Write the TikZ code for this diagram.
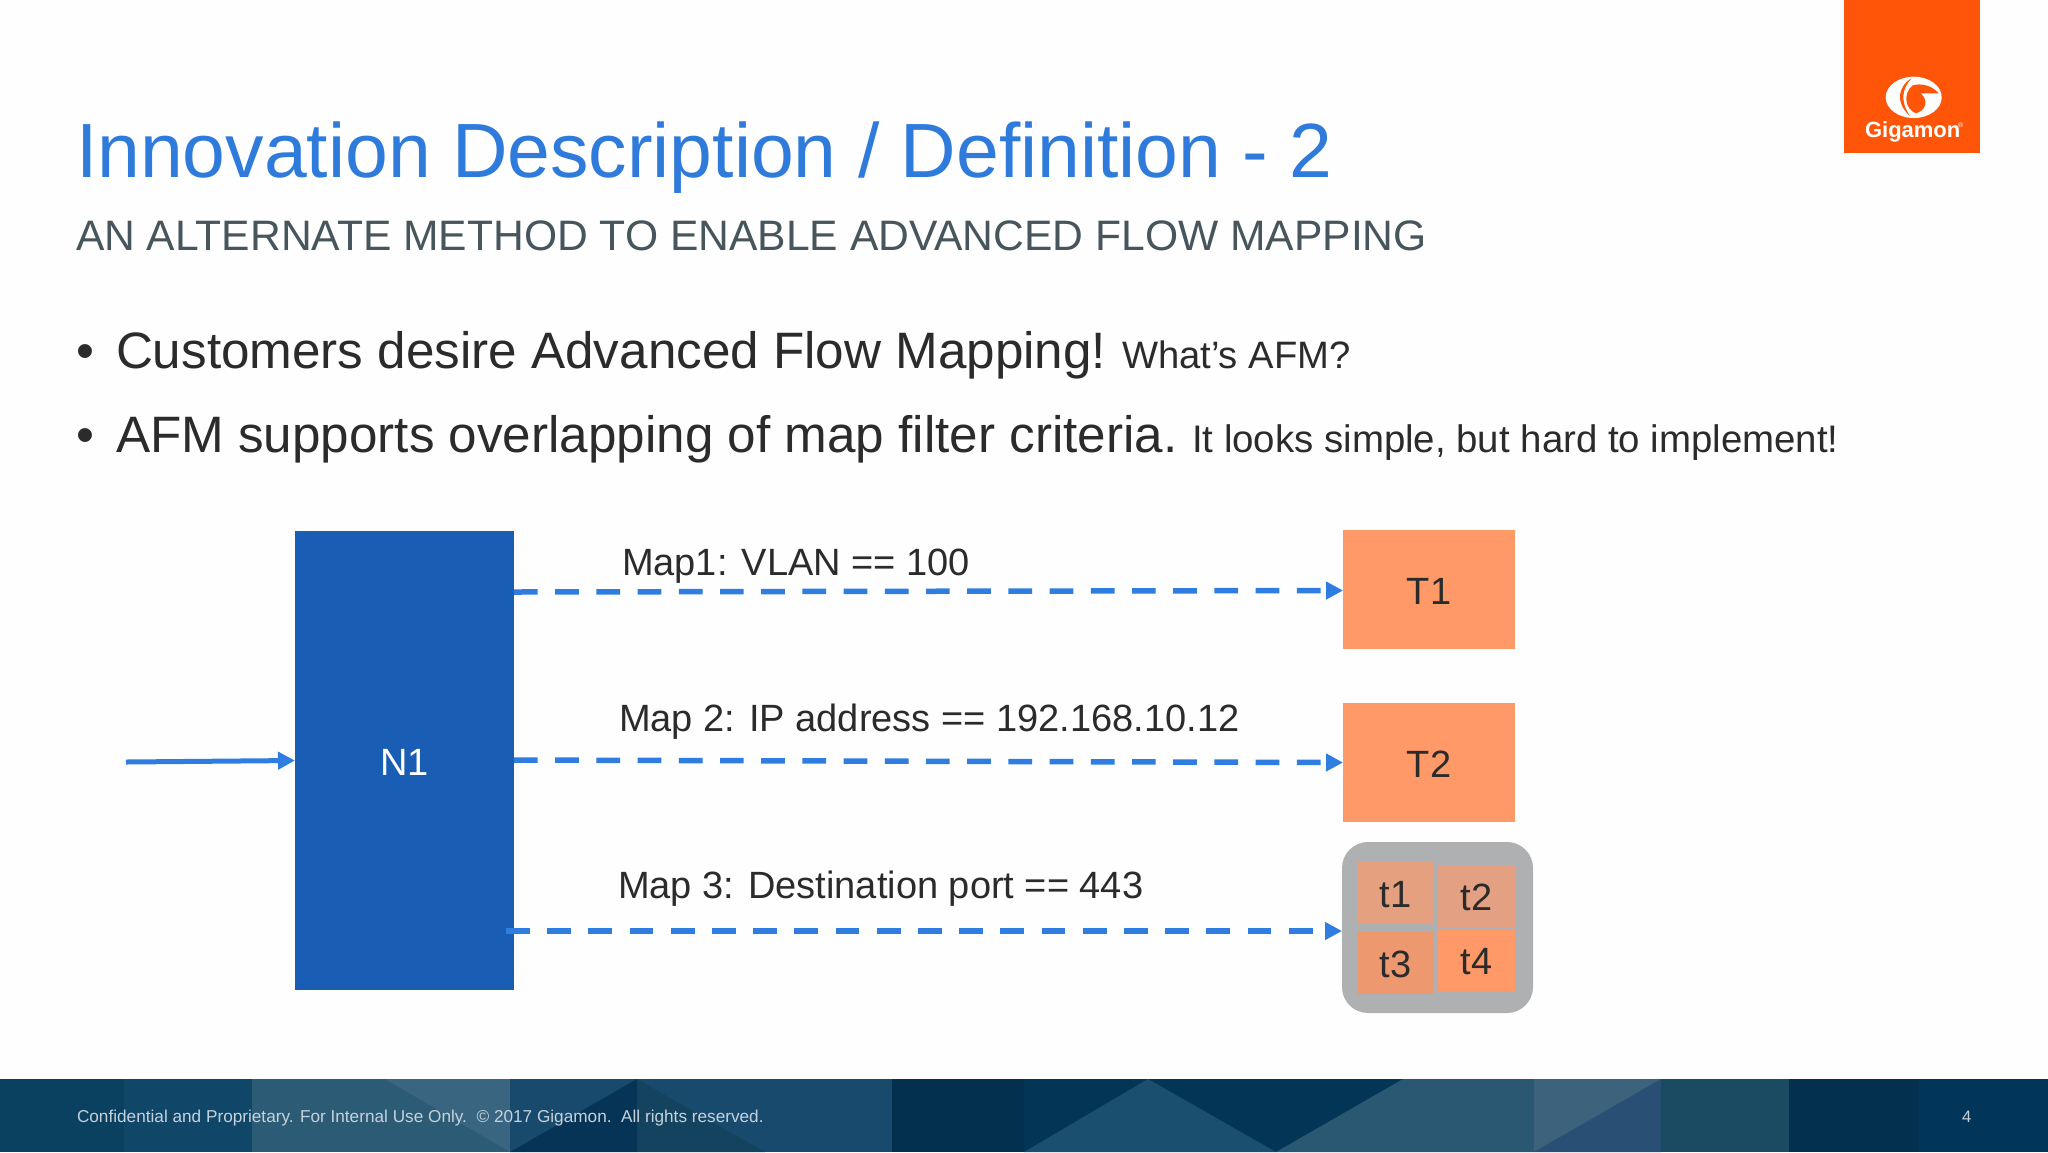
\documentclass[tikz,border=0pt]{standalone}
\usepackage{fontspec}
\setmainfont{Liberation Sans}
\usetikzlibrary{arrows.meta}
\definecolor{titleblue}{HTML}{2F7BDB}
\definecolor{subgray}{HTML}{47555C}
\definecolor{ink}{HTML}{2B2B2B}
\definecolor{nblue}{HTML}{1A5DB4}
\definecolor{arrowblue}{HTML}{2F7DE0}
\definecolor{salmon}{HTML}{FF9968}
\definecolor{logoorange}{HTML}{FF5508}
\definecolor{groupgray}{HTML}{AEB0B2}
\definecolor{foottext}{HTML}{C6D2DA}
\newcommand{\lowered}[1]{\raisebox{0pt}[\dimexpr\height+2pt\relax]{#1}}
\tikzset{
  txt/.style={anchor=base west,inner sep=0pt,outer sep=0pt,text=ink},
  solidbox/.style={draw=none,inner sep=0pt,outer sep=0pt,text=ink,font=\fontsize{19}{23}\selectfont},
  dashline/.style={draw=arrowblue,line width=2.75pt,dash pattern=on 11.85pt off 8.75pt,-{Triangle[length=8.5pt,width=8.5pt]}},
  cellbox/.style={solidbox,minimum width=38.5pt,minimum height=31pt},
  footpoly/.style={draw=none},
}
\begin{document}
\begin{tikzpicture}[x=0.5pt,y=-0.5pt]
\useasboundingbox (0,0) rectangle (2048,1152);
\fill[white!99.5!black] (0,0) rectangle (2048,1152);
% footer band
\fill[footpoly,fill={rgb,255:red,10;green,64;blue,96}] (0,1079) rectangle (124,1152);
\fill[footpoly,fill={rgb,255:red,16;green,70;blue,104}] (124,1079) rectangle (252,1152);
\fill[footpoly,fill={rgb,255:red,43;green,91;blue,117}] (252,1079) rectangle (510,1152);
\fill[footpoly,fill={rgb,255:red,58;green,101;blue,129}] (385,1079) -- (510,1079) -- (510,1152) -- cycle;
\fill[footpoly,fill={rgb,255:red,24;green,74;blue,110}] (510,1079) rectangle (892,1152);
\fill[footpoly,fill={rgb,255:red,6;green,52;blue,86}] (510,1152) -- (637,1079) -- (637,1152) -- cycle;
\fill[footpoly,fill={rgb,255:red,20;green,67;blue,95}] (637,1079) -- (765,1152) -- (637,1152) -- cycle;
\fill[footpoly,fill={rgb,255:red,3;green,48;blue,79}] (892,1079) rectangle (1024,1152);
\fill[footpoly,fill={rgb,255:red,2;green,53;blue,86}] (1024,1079) rectangle (1534,1152);
\fill[footpoly,fill={rgb,255:red,27;green,79;blue,111}] (1024,1152) -- (1148,1079) -- (1276,1152) -- cycle;
\fill[footpoly,fill={rgb,255:red,42;green,88;blue,114}] (1276,1152) -- (1403,1079) -- (1534,1079) -- (1534,1152) -- cycle;
\fill[footpoly,fill={rgb,255:red,60;green,99;blue,123}] (1534,1079) rectangle (1661,1152);
\fill[footpoly,fill={rgb,255:red,42;green,79;blue,116}] (1534,1152) -- (1661,1079) -- (1661,1152) -- cycle;
\fill[footpoly,fill={rgb,255:red,27;green,75;blue,98}] (1661,1079) rectangle (1789,1152);
\fill[footpoly,fill={rgb,255:red,3;green,48;blue,79}] (1789,1079) rectangle (1919,1152);
\fill[footpoly,fill={rgb,255:red,2;green,53;blue,90}] (1919,1079) rectangle (2048,1152);
\node[txt,text=foottext,font=\fontsize{8.6}{10}\selectfont] (foot) at (77,1122) {Confidential and Proprietary. For Internal Use Only.\ \ © 2017 Gigamon.\ \ All rights reserved.};
\node[txt,text=foottext,font=\fontsize{8.3}{10}\selectfont] (pagenum) at (1962,1122) {4};
% logo
\fill[logoorange] (1844,0) rectangle (1980,153);
\begin{scope}[shift={(1860,60)},x=0.1667pt,y=-0.1667pt]
\fill[white] (161,112) ellipse [x radius=84,y radius=62];
\fill[logoorange] (155,55) .. controls (120,72) and (100,125) .. (150,168) .. controls (120,125) and (125,85) .. (155,55) -- cycle;
\fill[logoorange] (250,100) -- (182,100) .. controls (205,120) and (200,150) .. (168,160) .. controls (135,148) and (128,100) .. (158,76) .. controls (185,68) and (218,78) .. (236,100) -- cycle;
\end{scope}
\node[txt,text=white,font=\fontsize{11}{13}\selectfont\bfseries] (logotext) at (1865,137) {Gigamon};
\node[txt,text=white,font=\fontsize{3.5}{4}\selectfont] (logomark) at (1958,127) {®};
% titles
\node[txt,text=titleblue,font=\fontsize{38.45}{44}\selectfont] (title) at (76,177.5) {Innovation Description / Definition - 2};
\node[txt,text=subgray,font=\fontsize{21.3}{26}\selectfont] (subtitle) at (76,250) {AN ALTERNATE METHOD TO ENABLE ADVANCED FLOW MAPPING};
% bullets
\node[txt,font=\fontsize{25.6}{30}\selectfont] (b1) at (76,368.5) {•};
\node[txt,font=\fontsize{25.6}{30}\selectfont] (b1a) at (116,368.5) {Customers desire Advanced Flow Mapping!};
\node[txt,font=\fontsize{19.1}{24}\selectfont] (b1b) at (1122,368.5) {What’s AFM?};
\node[txt,font=\fontsize{25.6}{30}\selectfont] (b2) at (76,452.5) {•};
\node[txt,font=\fontsize{25.6}{30}\selectfont] (b2a) at (116,452.5) {AFM supports overlapping of map filter criteria.};
\node[txt,font=\fontsize{19.2}{24}\selectfont] (b2b) at (1192,452.5) {It looks simple, but hard to implement!};
% boxes
\node[solidbox,fill=nblue,text=white,minimum width=109.5pt,minimum height=229.5pt] (n1) at (404.5,760.5) {\lowered{N1}};
\node[solidbox,fill=salmon,minimum width=86pt,minimum height=59.5pt] (t1) at (1429,589.5) {\lowered{T1}};
\node[solidbox,fill=salmon,minimum width=86pt,minimum height=59.5pt] (t2) at (1429,762.5) {\lowered{T2}};
\node[solidbox,fill=groupgray,rounded corners=13pt,minimum width=95.5pt,minimum height=85.5pt] (grp) at (1437.5,927.5) {};
\node[cellbox,fill={rgb,255:red,228;green,160;blue,127}] (c1) at (1395.5,893) {\lowered{t1}};
\node[cellbox,fill={rgb,255:red,228;green,160;blue,130}] (c2) at (1476.5,895.5) {\lowered{t2}};
\node[cellbox,fill={rgb,255:red,238;green,152;blue,112}] (c3) at (1395.5,962.5) {\lowered{t3}};
\node[cellbox,fill=salmon] (c4) at (1476.5,960) {\lowered{t4}};
% map labels
\node[txt,font=\fontsize{19}{23}\selectfont] (m1) at (622,575) {Map1: VLAN == 100};
\node[txt,font=\fontsize{19}{23}\selectfont] (m2) at (619,731) {Map 2: IP address == 192.168.10.12};
\node[txt,font=\fontsize{19}{23}\selectfont] (m3) at (618,898) {Map 3: Destination port == 443};
% connectors
\coordinate (src) at (126,762);
\coordinate (o1) at (514,592);
\coordinate (e1) at (1343,590.5);
\coordinate (o2) at (514,760);
\coordinate (o3) at (506,931);
\draw[arrowblue,line width=2.5pt,-{Triangle[length=8.5pt,width=8.5pt]}] (src) -- (n1.west);
\draw[dashline] (o1) -- (t1.west |- e1);
\draw[dashline] (o2) -- (t2.west);
\draw[dashline] (o3) -- (grp.west |- o3);
\end{tikzpicture}
\end{document}
